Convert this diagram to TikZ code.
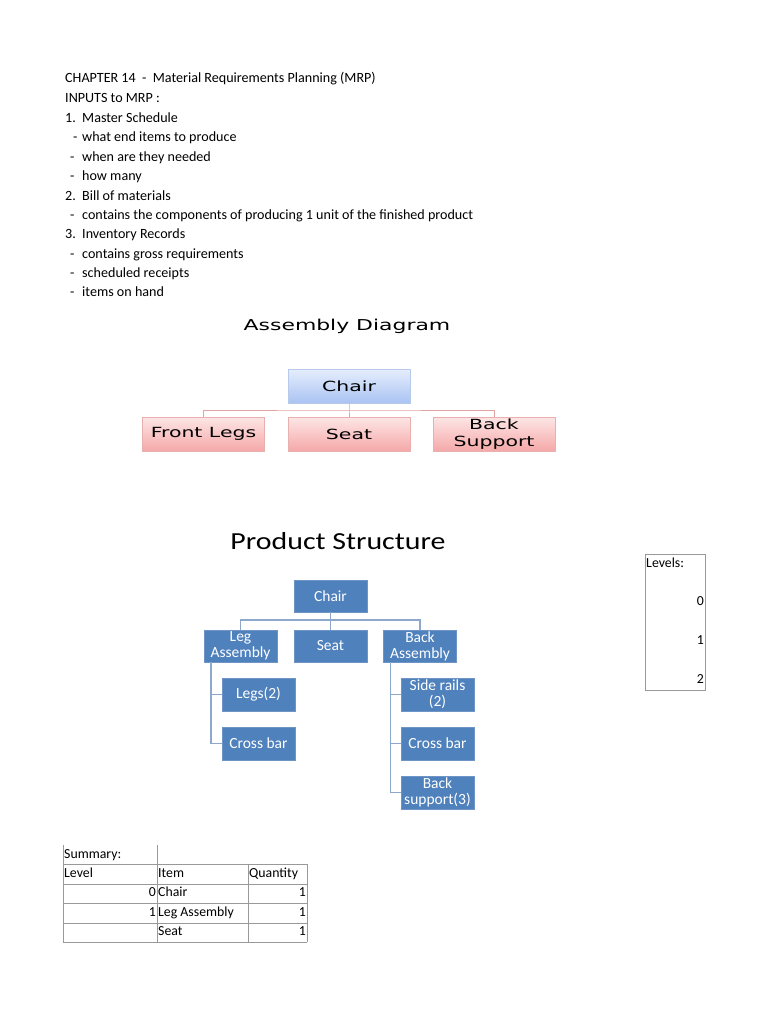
\documentclass[tikz,border=0pt]{standalone}
\usepackage{fontspec}
\setmainfont{Carlito}
\newfontfamily\verdfont{DejaVu Sans}
\usetikzlibrary{positioning}

\definecolor{psblue}{HTML}{4F81BD}
\definecolor{psedge}{HTML}{6F94C6}
\definecolor{pslink}{HTML}{8EA8CC}
\definecolor{asmtop}{HTML}{E6EEFD}
\definecolor{asmbot}{HTML}{A9C3F2}
\definecolor{asmedge}{HTML}{B7CAEC}
\definecolor{parttop}{HTML}{FDE6E6}
\definecolor{partbot}{HTML}{F5A8A8}
\definecolor{partedge}{HTML}{E9B0B0}
\definecolor{asmlink}{HTML}{E2A3A3}

\newcommand{\wide}[1]{\scalebox{1.46}[1]{#1}}

\begin{document}
\begin{tikzpicture}[x=1pt, y=-1pt]
        % Style definitions
        \tikzset{
            txt/.style={anchor=west, inner sep=0pt, text height=9.5pt, text depth=3pt,
                font=\fontsize{14.1}{15}\selectfont},
            asmchair/.style={draw=asmedge, top color=asmtop, bottom color=asmbot,
                minimum width=122pt, minimum height=34pt, inner sep=0pt,
                font=\verdfont\fontsize{14}{17}\selectfont, align=center},
            asmpart/.style={asmchair, draw=partedge, top color=parttop, bottom color=partbot},
            asmline/.style={asmlink, line width=1pt},
            psbox/.style={draw=psedge, fill=psblue, text=white, minimum width=73pt,
                minimum height=32pt, inner sep=0pt, align=center,
                font=\fontsize{15.5}{16}\selectfont},
            psline/.style={pslink, line width=1.6pt},
            cell/.style={inner sep=1pt, text height=9.5pt, text depth=3pt,
                font=\fontsize{13.8}{14}\selectfont},
            grid/.style={gray!80, line width=0.9pt}
        }
        \useasboundingbox[fill=white] (0,0) rectangle (768,1024);

        % ==========================================
        % INPUTS TO MRP (text block)
        % ==========================================
        \node[txt] (head) at (65,79) {CHAPTER 14~~-~~Material Requirements Planning (MRP)};
        \node[txt] (inputs) at (65,99) {INPUTS to MRP :};
        \foreach \y/\m/\x/\t in {119/1./65/Master Schedule,
                                 138/-/73/what end items to produce,
                                 158/-/70/when are they needed,
                                 177/-/70/how many,
                                 197/2./65/Bill of materials,
                                 216/-/70/contains the components of producing 1 unit of the finished product,
                                 235/3./65/Inventory Records,
                                 255/-/70/contains gross requirements,
                                 274/-/70/scheduled receipts,
                                 293/-/70/items on hand}{
            \node[txt] (mark\y) at (\x,\y) {\m};
            \node[txt] (item\y) at (82,\y) {\t};
        }

        % ==========================================
        % ASSEMBLY DIAGRAM
        % ==========================================
        \node[font=\verdfont\fontsize{15}{15}\selectfont] (asmtitle) at (347,326) {\wide{Assembly Diagram}};
        \node[asmchair] (achair) at (349,386) {\wide{Chair}};
        \node[asmpart] (afront) at (203.5,434) {\wide{Front Legs}};
        \node[asmpart] (aseat) at (349,434) {\wide{Seat}};
        \node[asmpart] (aback) at (494,434) {\wide{Back}\\\wide{Support}};
        \coordinate (ajoin) at (349,410);
        \draw[asmline] (achair.south) -- (ajoin) -- (aseat.north);
        \draw[asmline] (afront.north) |- (ajoin) -| (aback.north);

        % ==========================================
        % PRODUCT STRUCTURE
        % ==========================================
        \node[font=\fontsize{24.5}{26}\selectfont] (pstitle) at (338,541) {\scalebox{1.22}[1]{Product Structure}};
        % Level 0 and level 1
        \node[psbox] (pchair) at (330.5,596) {Chair};
        \node[psbox] (plegasm) at (240.5,646) {Leg\\Assembly};
        \node[psbox] (pseat) at (330.5,646) {Seat};
        \node[psbox] (pbackasm) at (420,646) {Back\\Assembly};
        \coordinate (pjoin) at (330.5,620);
        \draw[psline] (pchair.south) -- (pjoin) -- (pseat.north);
        \draw[psline] (plegasm.north) |- (pjoin) -| (pbackasm.north);
        % Level 2 under leg assembly
        \node[psbox, minimum height=33pt] (plegs) at (258.5,694.5) {Legs(2)};
        \node[psbox, minimum height=33pt] (plcross) at (258.5,743.5) {Cross bar};
        \coordinate (plegtrunk) at ([xshift=7pt]plegasm.south west);
        \draw[psline] (plegtrunk) |- (plegs.west);
        \draw[psline] (plegtrunk) |- (plcross.west);
        % Level 2 under back assembly
        \node[psbox, minimum height=33pt] (prails) at (437.5,694.5) {Side rails\\(2)};
        \node[psbox, minimum height=33pt] (pbcross) at (437.5,743.5) {Cross bar};
        \node[psbox, minimum height=33pt] (pbsupp) at (437.5,792.5) {Back\\support(3)};
        \coordinate (pbacktrunk) at ([xshift=7pt]pbackasm.south west);
        \draw[psline] (pbacktrunk) |- (prails.west);
        \draw[psline] (pbacktrunk) |- (pbcross.west);
        \draw[psline] (pbacktrunk) |- (pbsupp.west);

        % ==========================================
        % LEVELS BOX
        % ==========================================
        \draw[grid] (645,554) rectangle (705,690);
        \node[cell, anchor=west] (lvlhead) at (645,564) {Levels:};
        \node[cell, anchor=east] (lvl0) at (705,602) {0};
        \node[cell, anchor=east] (lvl1) at (705,641) {1};
        \node[cell, anchor=east] (lvl2) at (705,680) {2};

        % ==========================================
        % SUMMARY TABLE
        % ==========================================
        \draw[grid] (63,845) -- (63,942) (157,845) -- (157,942)
                    (248,864) -- (248,942) (307,864) -- (307,942);
        \foreach \y in {864,884,903,923,942}
            \draw[grid] (63,\y) -- (307,\y);
        \node[cell, anchor=west] (sumhead) at (63,855) {Summary:};
        \node[cell, anchor=west] (hlevel) at (63,874) {Level};
        \node[cell, anchor=west] (hitem) at (157,874) {Item};
        \node[cell, anchor=west] (hqty) at (248,874) {Quantity};
        \node[cell, anchor=east] (lv0) at (157,893.5) {0};
        \node[cell, anchor=west] (it0) at (157,893.5) {Chair};
        \node[cell, anchor=east] (qt0) at (307,893.5) {1};
        \node[cell, anchor=east] (lv1) at (157,913) {1};
        \node[cell, anchor=west] (it1) at (157,913) {Leg Assembly};
        \node[cell, anchor=east] (qt1) at (307,913) {1};
        \node[cell, anchor=west] (it2) at (157,932.5) {Seat};
        \node[cell, anchor=east] (qt2) at (307,932.5) {1};
\end{tikzpicture}
\end{document}
